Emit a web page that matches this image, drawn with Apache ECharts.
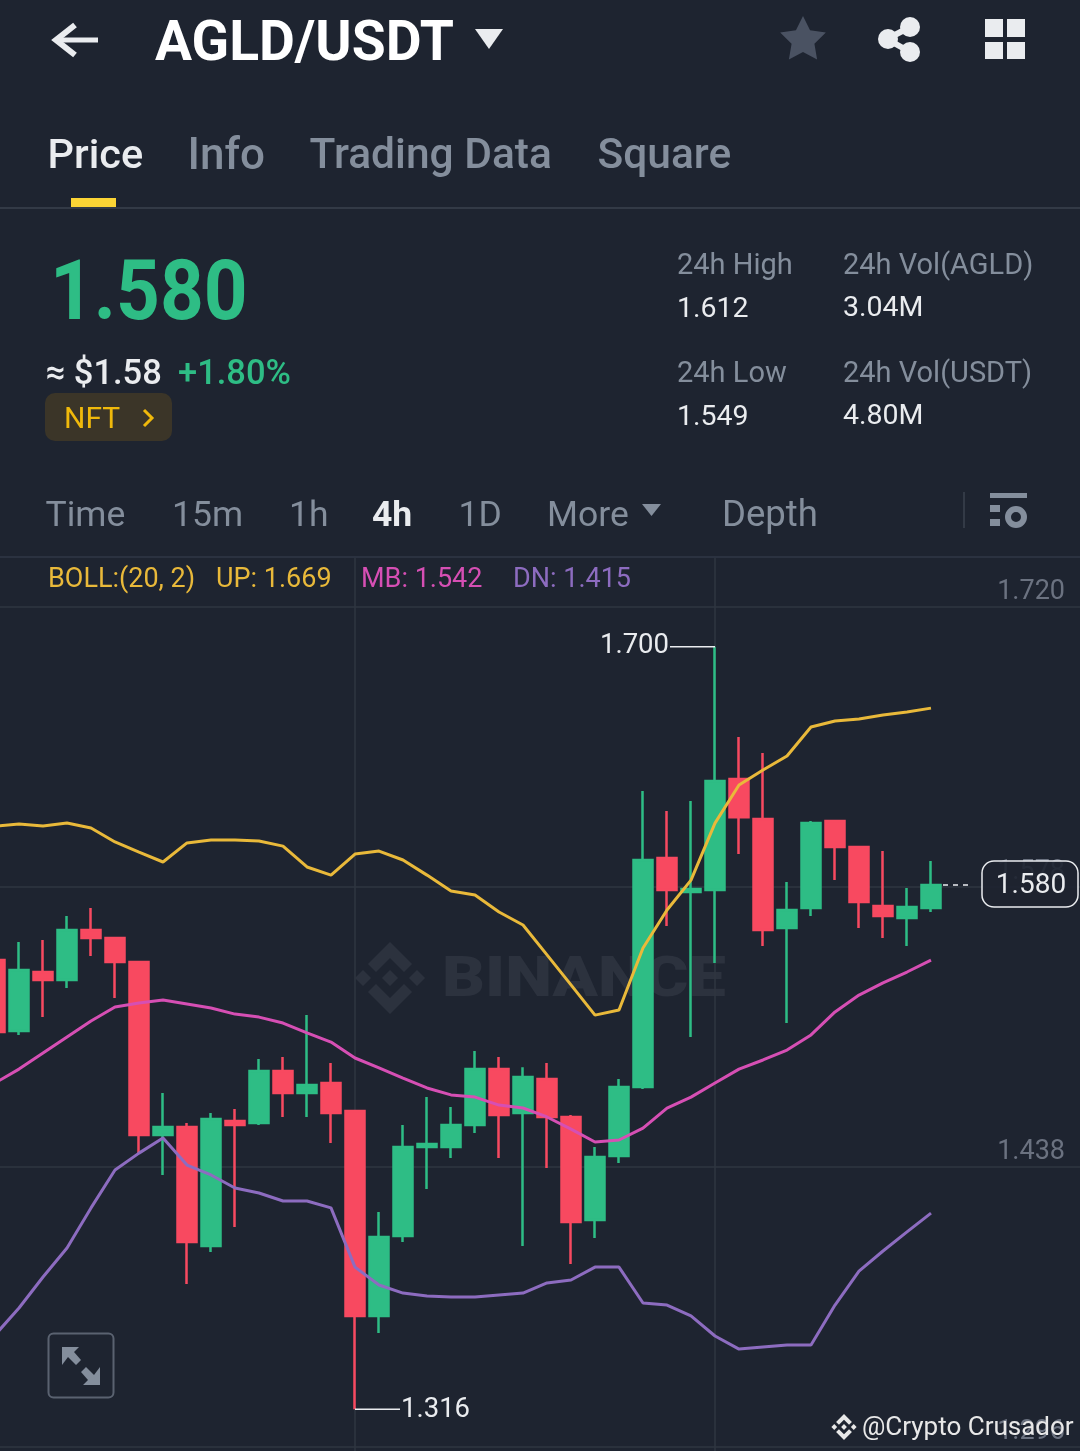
<!DOCTYPE html>
<html><head><meta charset="utf-8">
<style>html,body{margin:0;padding:0;background:#1e2430}#c{width:1080px;height:1451px}</style>
<script src="https://cdn.jsdelivr.net/npm/echarts@6/dist/echarts.min.js"></script>
</head><body><div id="c"></div>
<script>
const categories = ['0','1','2','3','4','5','6','7','8','9','10','11','12','13','14','15','16','17','18','19','20','21','22','23','24','25','26','27','28','29','30','31','32','33','34','35','36','37','38','39','40','41','42','43','44','45'];
const opens = [1.5422,1.5065,1.5362,1.5322,1.5573,1.5533,1.5412,1.4541,1.4581,1.3982,1.4612,1.4602,1.4863,1.4753,1.4803,1.4662,1.3630,1.4032,1.4481,1.4481,1.4592,1.4873,1.4652,1.4823,1.4632,1.4113,1.4435,1.4783,1.5936,1.5765,1.5775,1.6334,1.6132,1.5584,1.5684,1.6122,1.5991,1.5694,1.5634,1.5684];
const closes = [1.5060,1.5372,1.5322,1.5573,1.5533,1.5412,1.4541,1.4581,1.4002,1.4622,1.4592,1.4863,1.4753,1.4793,1.4652,1.3630,1.4027,1.4481,1.4496,1.4592,1.4873,1.4642,1.4833,1.4632,1.4103,1.4430,1.4783,1.5926,1.5775,1.5780,1.6324,1.6142,1.5573,1.5674,1.6112,1.5991,1.5714,1.5644,1.5689,1.5800];
const lows = [1.5060,1.5045,1.5135,1.5281,1.5443,1.5231,1.4450,1.4340,1.3791,1.3952,1.4078,1.4592,1.4632,1.4632,1.4501,1.316,1.3544,1.4002,1.4269,1.4425,1.4551,1.4425,1.3982,1.4375,1.3891,1.4022,1.4400,1.4773,1.5594,1.5035,1.5407,1.5956,1.5493,1.5105,1.5644,1.5825,1.5584,1.5533,1.5493,1.5664];
const highs = [1.5422,1.5513,1.5523,1.5644,1.5684,1.5533,1.5417,1.4753,1.4602,1.4652,1.4672,1.4924,1.4934,1.5145,1.4904,1.4667,1.4153,1.4592,1.4732,1.4682,1.4964,1.4934,1.4883,1.4904,1.4642,1.4481,1.4823,1.6273,1.6173,1.6223,1.700,1.6545,1.6465,1.5815,1.6122,1.6122,1.5991,1.5971,1.5785,1.5921];
const bollUp = [1.6097,1.6107,1.6097,1.6112,1.6087,1.6017,1.5966,1.5916,1.6012,1.6027,1.6027,1.6022,1.5996,1.5891,1.5850,1.5956,1.5971,1.5926,1.5850,1.5770,1.5750,1.5664,1.5599,1.5448,1.5297,1.5145,1.5171,1.5483,1.5674,1.5825,1.6112,1.6304,1.6379,1.6450,1.6596,1.6626,1.6636,1.6656,1.6671,1.6691];
const bollMid = [1.4803,1.4873,1.4954,1.5035,1.5115,1.5186,1.5206,1.5221,1.5201,1.5181,1.5150,1.5135,1.5105,1.5055,1.5009,1.4929,1.4879,1.4828,1.4778,1.4743,1.4732,1.4692,1.4677,1.4632,1.4571,1.4506,1.4516,1.4576,1.4677,1.4732,1.4803,1.4873,1.4919,1.4969,1.5045,1.5161,1.5246,1.5307,1.5362,1.5422];
const bollDn = [1.3534,1.3670,1.3826,1.3972,1.4174,1.4365,1.4450,1.4526,1.4390,1.4340,1.4274,1.4249,1.4209,1.4209,1.4174,1.3876,1.3786,1.3745,1.3730,1.3725,1.3725,1.3735,1.3745,1.3796,1.3811,1.3876,1.3876,1.3695,1.3685,1.3630,1.3529,1.3463,1.3474,1.3484,1.3484,1.3685,1.3856,1.3957,1.4053,1.4148];
const yTicks = [1.720,1.579,1.438,1.297];
const yTickLabels = ['1.720','1.578','1.438','1.296'];
const verticalGridCategories = ['15','30'];
const extremeIndexes = [30,15];
const lastPrice = 1.580;

const BG='#1e2430', GREEN='#2ebd85', RED='#f84960', GRID='#2f3641', GRAY='#848e9c', WHITE='#eaecef';
const FONT='Roboto, "Noto Sans", sans-serif';
function T(text,x,y,size,fill,weight,align,z,sx){
  const el={type:'text',z:z==null?10:z,style:{text,x:0,y:0,fill,fontSize:size,fontWeight:weight||400,fontFamily:FONT,textAlign:align||'left',textVerticalAlign:'middle'},x:x,y:y+size*0.09};
  if(sx) el.scaleX=sx;
  return el;
}
function P(points,fill,z){return {type:'polygon',z:z==null?10:z,shape:{points},style:{fill}};}
function R(x,y,w,h,fill,r,z){return {type:'rect',z:z==null?10:z,shape:{x,y,width:w,height:h,r:r||0},style:{fill}};}
function L(points,stroke,w,z){return {type:'polyline',z:z==null?10:z,shape:{points},style:{stroke,lineWidth:w,fill:'none'}};}
function C(cx,cy,r,fill,z){return {type:'circle',z:z==null?10:z,shape:{cx,cy,r},style:{fill}};}
function star(cx,cy,ro,ri){const p=[];for(let k=0;k<10;k++){const r=k%2?ri:ro,a=-Math.PI/2+k*Math.PI/5;p.push([cx+r*Math.cos(a),cy+r*Math.sin(a)]);}return p;}
function diamond(cx,cy,r){return [[cx,cy-r],[cx+r,cy],[cx,cy+r],[cx-r,cy]];}
function binanceLogo(cx,cy,s,color,z){
  const d=(x,y,r)=>P(diamond(cx+x*s,cy+y*s,r*s),color,z);
  const chev=(sign)=>P([[cx-22*s,cy+sign*14*s],[cx,cy+sign*36*s],[cx+22*s,cy+sign*14*s],[cx+14*s,cy+sign*6*s],[cx,cy+sign*20*s],[cx-14*s,cy+sign*6*s]],color,z);
  return [d(0,0,8),d(-27,0,8),d(27,0,8),chev(-1),chev(1)];
}
const graphics = [
  ...binanceLogo(390,978,1,'#2c323e',-1),
  T('BINANCE',442,977,56,'#2c323e',900,'left',-1,1.19),
  L([[75,25],[56,40],[75,55]],WHITE,6),L([[57,40],[98,40]],WHITE,5),
  T('AGLD/USDT',155,41,56,'#ffffff',700,'left',10,0.985),
  P([[475,29],[503,29],[489,49]],WHITE),
  P(star(803,40,24,12),'#4a5262'),
  L([[910,27],[887,39],[910,52]],WHITE,6),C(910,27,10,WHITE),C(888,39,10,WHITE),C(910,52,10,WHITE),
  R(985,19,18,18,WHITE),R(1007,19,18,18,WHITE),R(985,42,18,17,WHITE),R(1007,42,18,17,WHITE),
  T('Price',47.5,154,41.5,WHITE,500),T('Info',187.5,154,44,GRAY,500),T('Trading Data',309.5,154,42.5,GRAY,500),T('Square',597.5,154,42.5,GRAY,500),
  R(71,198,45,9,'#fcd535'),R(0,207,1080,2,'#333a46'),
  T('1.580',50,290,84,GREEN,700,'left',10,0.91),
  T('≈ $1.58',45.5,372,34.5,WHITE,500),T('+1.80%',178,372,34.5,GREEN,500),
  R(45,393,127,48,'#3b3528',10),T('NFT',64,418,30,'#f0b90b',400),L([[144,410],[152,418],[144,426]],'#f0b90b',3),
  T('24h High',677,264,29,GRAY),T('1.612',677,307,28.5,WHITE),T('24h Vol(AGLD)',843,264,29,GRAY),T('3.04M',843,306,28.5,WHITE),
  T('24h Low',677,372,29,GRAY),T('1.549',677,415,28.5,WHITE),T('24h Vol(USDT)',843,372,29,GRAY),T('4.80M',843,414,28.5,WHITE),
  T('Time',45.5,514,35.5,GRAY),T('15m',172,514,35.5,GRAY),T('1h',289,514,35.5,GRAY),T('4h',372,514,35.5,WHITE,700),T('1D',458.5,514,35.5,GRAY),T('More',547,514,35.5,GRAY),
  P([[642,504],[661,504],[651.5,516]],GRAY),T('Depth',722,514,36.5,GRAY),
  R(963,492,2,36,'#333a46'),
  R(990,493,37,5,GRAY),R(990,505,10,7,GRAY),R(990,519,10,7,GRAY),
  {type:'circle',z:10,shape:{cx:1016,cy:517,r:8},style:{fill:BG,stroke:GRAY,lineWidth:6}},
  R(0,556,1080,2,'#2b3240'),
  T('BOLL:(20, 2)',48,578,27,'#e9b93a'),T('UP: 1.669',216,578,27,'#e9b93a'),T('MB: 1.542',361,578,27,'#d64fb4'),T('DN: 1.415',513,578,27,'#8d6cc0'),
  {type:'rect',z:10,shape:{x:48.5,y:1333.5,width:65,height:64,r:5},style:{fill:'none',stroke:'#5a6270',lineWidth:2}},
  P([[62,1347],[79,1347],[74,1352],[81,1360],[76,1365],[68,1357],[62,1365]],'#848e9c'),
  P([[100,1385],[83,1385],[88,1380],[81,1372],[86,1367],[94,1375],[100,1367]],'#848e9c'),
  ...binanceLogo(844,1427,0.36,'#e8e8e8',20),
  T('@Crypto Crusador',862,1426,26,'#e8e8e8',400,'left',20)
];

function renderNotes(params,api){
  const x=api.value(0), v=api.value(1), p=api.coord([x,v]), i=params.dataIndex;
  const txt=v.toFixed(3), lbl={fontSize:27.5,fontFamily:FONT,fill:WHITE};
  if(i===0) return {type:'group',children:[
    {type:'line',shape:{x1:p[0],y1:p[1],x2:p[0]-45,y2:p[1]},style:{stroke:WHITE,lineWidth:1.5}},
    {type:'text',style:{...lbl,text:txt,x:p[0]-46,y:p[1]-1,textAlign:'right',textVerticalAlign:'middle'}}]};
  if(i===1) return {type:'group',children:[
    {type:'line',shape:{x1:p[0],y1:p[1],x2:p[0]+45,y2:p[1]},style:{stroke:WHITE,lineWidth:1.5}},
    {type:'text',style:{...lbl,text:txt,x:p[0]+46,y:p[1]+1,textAlign:'left',textVerticalAlign:'middle'}}]};
  return {type:'group',children:[
    {type:'line',shape:{x1:p[0]+12,y1:p[1],x2:p[0]+42,y2:p[1]},style:{stroke:WHITE,lineWidth:1.5,lineDash:[5,5]}},
    {type:'rect',shape:{x:982,y:p[1]-24,width:96,height:46,r:12},style:{fill:'rgba(30,36,48,0.9)',stroke:WHITE,lineWidth:1.5}},
    {type:'text',style:{...lbl,fontSize:28,text:txt,x:1031,y:p[1]+1,textAlign:'center',textVerticalAlign:'middle'}}]};
}

const chart = echarts.init(document.getElementById('c'),null,{width:1080,height:1451});
const lineSeries=(name,data,color)=>({name,type:'line',data,symbol:'none',smooth:false,z:5,silent:true,lineStyle:{color,width:3}});
chart.setOption({
  animation:false,
  backgroundColor:BG,
  graphic:{elements:graphics},
  grid:{left:-17,width:1104,top:557,height:894,outerBoundsMode:'none',containLabel:false},
  xAxis:{type:'category',data:categories,boundaryGap:true,axisLine:{show:false},axisTick:{show:false},axisLabel:{show:false},splitLine:{show:false}},
  yAxis:{type:'value',position:'right',min:1.29498,max:1.7452,scale:true,
    axisLine:{show:false},axisTick:{show:false,customValues:yTicks},
    axisLabel:{inside:true,customValues:yTicks,margin:22,color:'#6b7280',fontSize:27,fontFamily:FONT,verticalAlign:'bottom',lineHeight:30,
      formatter:v=>{let b=0;yTicks.forEach((t,k)=>{if(Math.abs(t-v)<Math.abs(yTicks[b]-v))b=k;});return yTickLabels[b];}},
    splitLine:{show:true,lineStyle:{color:GRID,width:1.5}}},
  series:[
    {name:'AGLD/USDT',type:'candlestick',z:3,barWidth:19.5,silent:true,
      data:opens.map((o,i)=>[o,closes[i],lows[i],highs[i]]),
      itemStyle:{color:GREEN,color0:RED,borderColor:GREEN,borderColor0:RED,borderWidth:2.5},
      markLine:{silent:true,symbol:'none',label:{show:false},lineStyle:{color:GRID,width:1.5,type:'solid'},z:1,
        data:verticalGridCategories.map(c=>({xAxis:c}))}},
    lineSeries('UP',bollUp,'#e9b93a'),
    lineSeries('MB',bollMid,'#d64fb4'),
    lineSeries('DN',bollDn,'#8d6cc0'),
    {name:'notes',type:'custom',z:8,silent:true,clip:false,renderItem:renderNotes,encode:{x:0,y:1},
      data:[[extremeIndexes[0],highs[extremeIndexes[0]]],[extremeIndexes[1],lows[extremeIndexes[1]]],[closes.length-1,lastPrice]]}
  ]
});
</script></body></html>
